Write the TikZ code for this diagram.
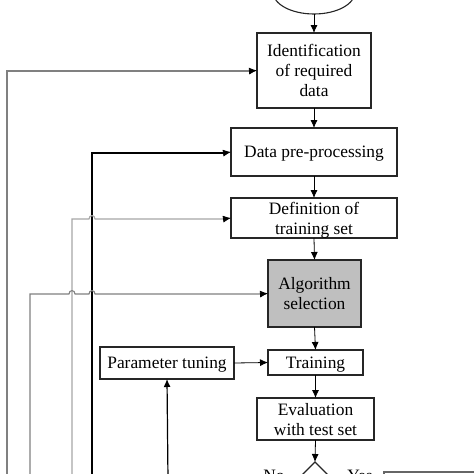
\documentclass[tikz,border=0pt]{standalone}
\usepackage{fontspec}
\setmainfont{Liberation Serif}
\usetikzlibrary{shapes.geometric,arrows.meta}
\begin{document}
\begin{tikzpicture}[x=1pt,y=-1pt,
  every node/.style={inner sep=0pt,outer sep=0pt,font=\fontsize{17.4}{20}\selectfont},
  stepbox/.style={draw=black!85,line width=1.1pt,rectangle,align=center,text depth=0pt},
  arr/.style={-{Latex[length=8pt,width=7pt]},line width=0.8pt,black},
  fbblack/.style={line width=1.3pt,black},
  fbgray/.style={line width=1.1pt,black!50},
  fblight/.style={line width=1.1pt,black!35},
]
\useasboundingbox (0,0) rectangle (474,474);
\fill[white] (0,0) rectangle (474,474);

\node[draw=black!85,line width=1.1pt,ellipse,minimum width=82pt,minimum height=44pt] (start) at (314,-8) {};
\node[stepbox,minimum width=114pt,minimum height=75pt] (ident) at (314,70.5) {Identification\\of required\\data};
\node[stepbox,minimum width=166pt,minimum height=48pt] (prep) at (314,152) {Data pre-processing};
\node[stepbox,minimum width=166pt,minimum height=40pt] (defn) at (314,218) {Definition of\\training set};
\node[stepbox,fill=black!25,minimum width=93pt,minimum height=67pt] (algo) at (314.5,293.5) {Algorithm\\selection};
\node[stepbox,minimum width=95pt,minimum height=25pt] (train) at (315.5,362.5) {Training};
\node[stepbox,minimum width=134pt,minimum height=32pt] (param) at (167,363) {Parameter tuning};
\node[stepbox,minimum width=117pt,minimum height=42pt] (eval) at (315.5,419) {Evaluation\\with test set};
\node[draw=black!85,line width=1.1pt,diamond,minimum width=52pt,minimum height=52pt] (dec) at (315,488) {};
\node[anchor=base] (no) at (274,481) {No};
\node[anchor=base] (yes) at (360,481) {Yes};
\node[draw=black!60,line width=2pt,rectangle,minimum width=100pt,minimum height=20pt,anchor=north west] (next) at (384,472) {};

\draw[arr] (start.south) -- (ident.north);
\draw[arr] (ident.south) -- (prep.north);
\draw[arr] (prep.south) -- (defn.north);
\draw[arr] (defn.south) -- (algo.north);
\draw[arr] (algo.south) -- (train.north);
\draw[arr] (param.east) -- (train.west);
\draw[arr] (train.south) -- (eval.north);
\draw[arr] (eval.south) -- (dec.north);

\coordinate (fa) at (7,480);
\coordinate (fb) at (92,480);
\coordinate (fc) at (72,480);
\coordinate (fd) at (30,480);
\coordinate (fe) at (168,480);

\draw[fbgray] (fa) -- (7,71) -- (250,71);
\draw[arr] (250,71) -- (ident.west);
\draw[fbblack] (fb) -- (92,153) -- (224,153);
\draw[arr] (224,153) -- (prep.west);
\draw[fblight] (fc) -- (72,219) -- (89,219) .. controls (89,214.5) and (95,214.5) .. (95,219) -- (224,219);
\draw[arr] (224,219) -- (defn.west);
\draw[fbgray] (fd) -- (30,294) -- (69,294) .. controls (69,289.5) and (75,289.5) .. (75,294) -- (89,294) .. controls (89,289.5) and (95,289.5) .. (95,294) -- (261,294);
\draw[arr] (261,294) -- (algo.west);
\draw[arr,line width=1.2pt] (fe) -- (param.south);
\end{tikzpicture}
\end{document}
